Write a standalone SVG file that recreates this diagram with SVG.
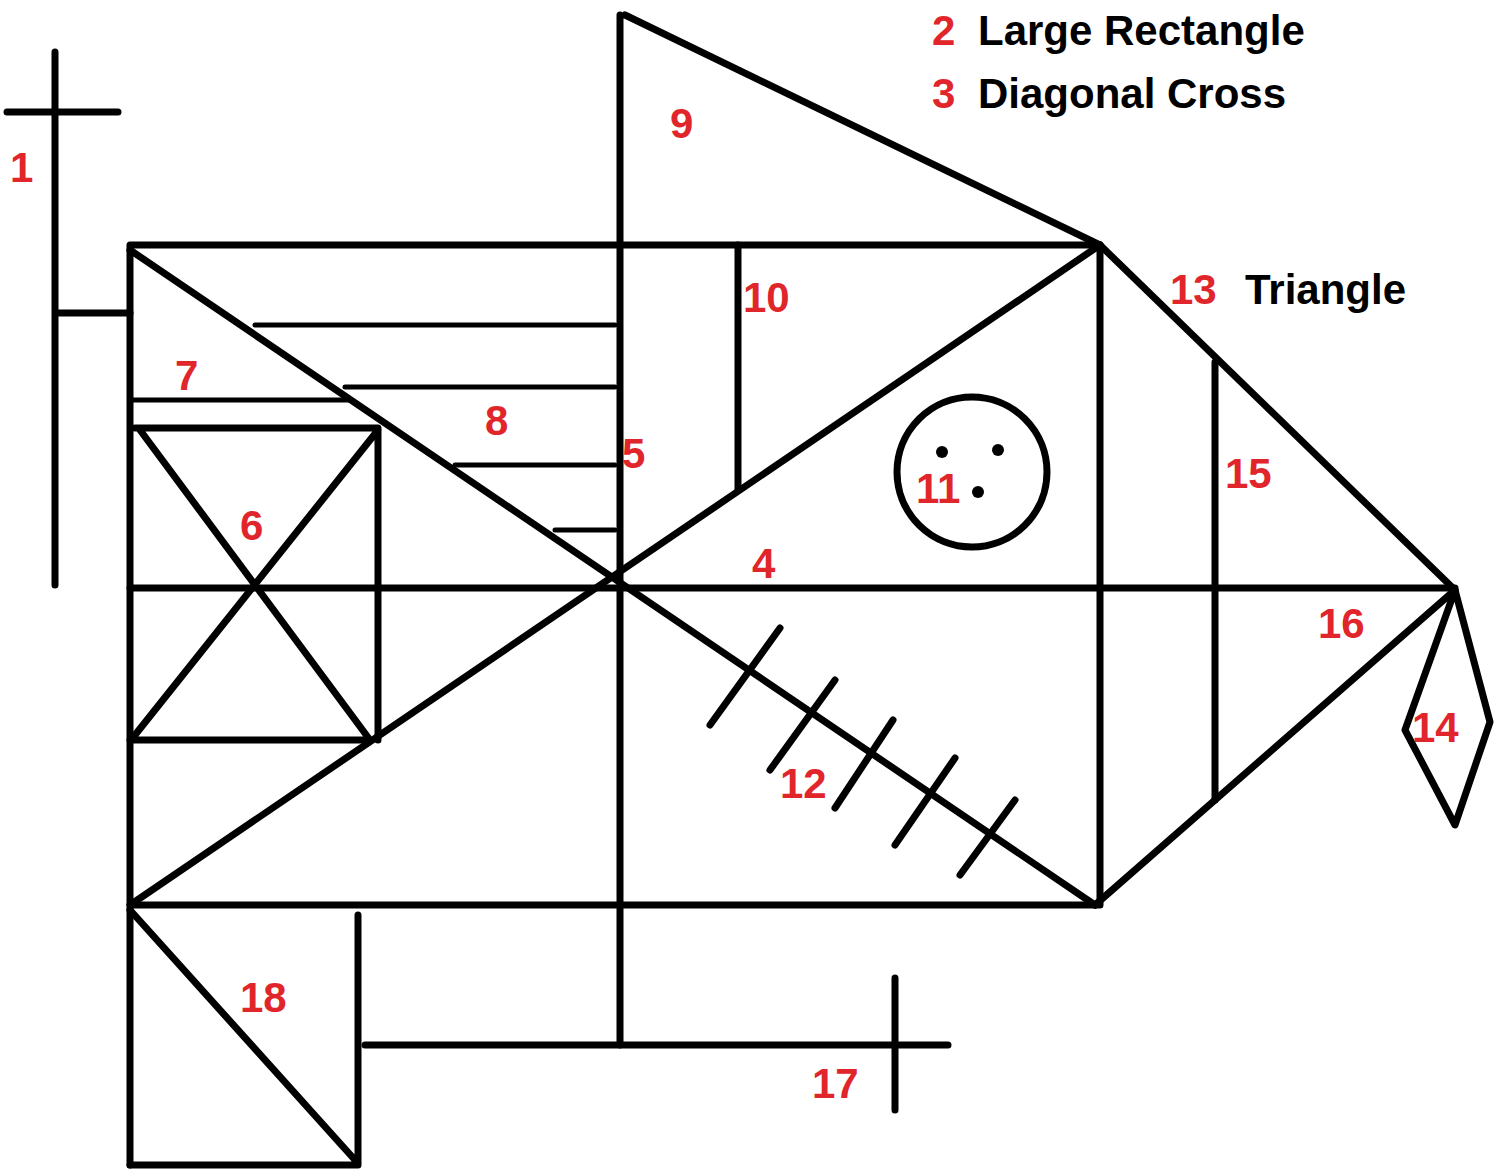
<svg xmlns="http://www.w3.org/2000/svg" width="1500" height="1174" viewBox="0 0 1500 1174">
<style>
.l{stroke:#000;stroke-width:7;fill:none;stroke-linecap:round;stroke-linejoin:round}
.t{stroke:#000;stroke-width:5;fill:none;stroke-linecap:round}
.n{fill:#e0262b;font-family:"Liberation Sans",Arial,sans-serif;font-size:42px;font-weight:bold}
.k{fill:#000;font-family:"Liberation Sans",Arial,sans-serif;font-size:42px;font-weight:bold}
</style>
<rect width="1500" height="1174" fill="#fff"/>
<g id="connectors">
<path class="l" d="M55 52V585M7 112H118M58 313H130"/>
<path class="l" d="M130 245H1100V905H130ZM130 905V1165"/>
<path class="l" d="M130 250L1095 905M130 905L1100 245"/>
<path class="l" d="M130 588H1455"/>
<path class="l" d="M620 15V1045M625 15L1100 245"/>
<path class="l" d="M738 245V490"/>
<path class="t" d="M255 325H615M345 387H615M455 465H615M555 530H615"/>
<path class="t" d="M130 400H350"/>
<path class="l" d="M135 428H378V740M130 740H370M140 430L370 740M378 430L135 735"/>
<circle class="l" cx="972" cy="472" r="75"/>
<circle cx="942" cy="452" r="6"/><circle cx="998" cy="450" r="6"/><circle cx="978" cy="492" r="6"/>
<path class="l" d="M710 725L780 628M770 770L835 680M835 808L893 720M895 845L955 758M960 875L1015 800"/>
<path class="l" d="M1100 245L1455 590L1095 905"/>
<path class="l" d="M1215 362V800"/>
<path class="l" d="M1455 590L1490 722L1455 825L1405 730Z"/>
<path class="l" d="M130 1165H358V915M130 910L355 1160"/>
<path class="l" d="M365 1045H948M895 978V1110"/>
</g>
<g id="labels">
<text class="n" x="10" y="182">1</text>
<text class="n" x="932" y="45">2</text><text class="k" x="978" y="45">Large Rectangle</text>
<text class="n" x="932" y="108">3</text><text class="k" x="978" y="108">Diagonal Cross</text>
<text class="n" x="752" y="578">4</text>
<text class="n" x="622" y="468">5</text>
<text class="n" x="240" y="540">6</text>
<text class="n" x="175" y="390">7</text>
<text class="n" x="485" y="435">8</text>
<text class="n" x="670" y="138">9</text>
<text class="n" x="743" y="312">10</text>
<text class="n" x="916" y="503">11</text>
<text class="n" x="780" y="798">12</text>
<text class="n" x="1170" y="304">13</text><text class="k" x="1245" y="304">Triangle</text>
<text class="n" x="1412" y="742">14</text>
<text class="n" x="1225" y="488">15</text>
<text class="n" x="1318" y="638">16</text>
<text class="n" x="812" y="1098">17</text>
<text class="n" x="240" y="1012">18</text>
</g>
</svg>
